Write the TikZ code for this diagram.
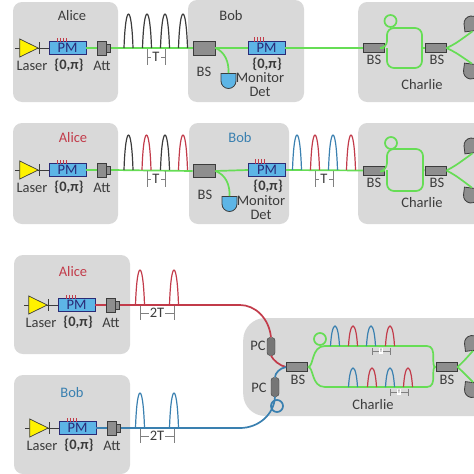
\documentclass[tikz,border=0pt]{standalone}
\usepackage{fontspec}
\setmainfont{Carlito}
\usetikzlibrary{shapes.geometric,shapes.misc}
\definecolor{panel}{HTML}{D9D9D9}
\definecolor{fibre}{HTML}{66DD55}
\definecolor{redline}{HTML}{C23B4A}
\definecolor{blueline}{HTML}{3A80B0}
\definecolor{ink}{HTML}{3C3C3C}
\definecolor{steel}{HTML}{8E8E8E}
\definecolor{pmblue}{HTML}{5DB5E6}
\newcommand{\lblfont}{\fontsize{14.5}{16}\selectfont}
\tikzset{
  panelbox/.style={fill=panel, rounded corners=9pt, inner sep=0pt},
  lbl/.style={text=ink, font=\lblfont, inner sep=0pt},
  phaselbl/.style={text=ink, font=\bfseries\lblfont, inner sep=0pt},
  fibreline/.style={line width=1.7pt, draw=#1},
  fibreline/.default=fibre,
  pulseline/.style={line width=1.2pt, draw=#1},
  bsbox/.style={draw=ink, fill=steel, line width=0.9pt, inner sep=0pt, minimum width=#1},
  pmbox/.style={draw=ink!70!blue, fill=pmblue, line width=0.9pt, inner sep=0pt, minimum width=37pt, minimum height=13pt, text=ink!70!blue, font=\lblfont},
  detbox/.style={rounded rectangle, rounded rectangle west arc=none, draw=ink, fill=#1, line width=0.8pt, inner sep=0pt, minimum width=13pt, minimum height=15pt},
  pcbox/.style={draw=ink, fill=ink!70, rounded corners=3pt, inner sep=0pt, minimum width=8pt},
  tmarkline/.style={draw=gray, line width=0.7pt},
}
% sender chain: prefix, left x, y, colour of the fibre
\newcommand{\sender}[4]{
  \coordinate (#1in) at (#2-5,#3);
  \node[pmbox] (#1pm) at (#2+47.5,#3) {PM};
  \node[draw=ink, fill=steel, line width=0.9pt, inner sep=0pt, minimum width=9pt, minimum height=14pt] (#1att) at (#2+81.5,#3) {};
  \node[draw=ink, fill=steel, line width=0.7pt, inner sep=0pt, minimum width=4pt, minimum height=8pt, anchor=west] (#1cap) at (#1att.east) {};
  \draw[ink, line width=1pt] (#1in) -- (#1pm.west);
  \draw[ink, line width=1pt] (#2+19,#3-6) -- (#2+19,#3+6);
  \node[isosceles triangle, isosceles triangle apex angle=52, draw=ink, fill=yellow, line width=0.7pt, inner sep=0pt, minimum height=18pt, minimum width=18pt, anchor=apex] (#1laser) at (#2+19,#3) {};
  \foreach \t in {0,3,6,9} \draw[redline, line width=0.6pt] (#2+37+\t,#3-6.5) -- (#2+37+\t,#3-10.5);
  \draw[fibreline=#4] (#1pm.east) -- (#1att.west);
  \node[lbl] (#1lasertxt) at (#2+12,#3+18) {Laser};
  \node[phaselbl] (#1phase) at (#2+49,#3+17) {\{0,π\}};
  \node[lbl] (#1atttxt) at (#2+82,#3+18) {Att};
}
\newcommand{\pulse}[4]{\draw[pulseline=#4] (#1-4.5,#2) .. controls (#1-3,#2-1.33*#3) and (#1+3,#2-1.33*#3) .. (#1+4.5,#2);}
% optional font, name, x1, x2, y, half height, text
\newcommand{\tmark}[7][\lblfont]{
  \draw[tmarkline] (#3,#5-#6) -- (#3,#5+#6) (#4,#5-#6) -- (#4,#5+#6) (#3,#5) -- (#4,#5);
  \node[lbl, fill=white, inner sep=1pt, font=#1] (#2) at ({(#3+#4)/2},#5) {#7};
}
\begin{document}
\begin{tikzpicture}[x=1pt, y=-1pt]
\useasboundingbox (0,0) rectangle (474,474);
\clip (0,0) rectangle (474,474);

% first row
\node[panelbox, minimum width=105pt, minimum height=100pt] (alicea) at (65.5,52) {};
\node[panelbox, minimum width=116pt, minimum height=102pt] (boba) at (246,51) {};
\node[panelbox, minimum width=130pt, minimum height=100pt, anchor=west] (charliea) at (358,52) {};
\node[lbl] (alicetxta) at (72,16) {Alice};
\node[lbl] (bobtxta) at (231,16) {Bob};
\node[lbl] (charlietxta) at (422,85) {Charlie};
\sender{a}{20}{48}{fibre}
\node[bsbox=22pt, minimum height=14pt] (bsa) at (204,48) {};
\node[pmbox] (pmba) at (266.5,48) {PM};
\foreach \t in {0,3,6,9} \draw[redline, line width=0.6pt] (254+\t,41.5) -- (254+\t,37);
\node[phaselbl] (phaseba) at (267,64) {\{0,π\}};
\node[lbl] (bstxta) at (204,72) {BS};
\node[detbox=pmblue, rotate=-90] (mona) at (228.5,81) {};
\node[lbl] (montxta) at (260,78) {Monitor};
\node[lbl] (dettxta) at (260,92) {Det};
\node[bsbox=21pt, minimum height=9pt] (bsca) at (373.5,48) {};
\node[bsbox=21pt, minimum height=9pt] (bsda) at (435.5,48) {};
\node[lbl] (bscatxt) at (374,60) {BS};
\node[lbl] (bsdatxt) at (437,60) {BS};
\node[detbox=steel, rotate=97] (upa) at (471.5,23.5) {};
\node[detbox=steel, rotate=-97] (loa) at (471,71.5) {};
\draw[fibreline] (acap.east) -- (bsa.west);
\draw[fibreline] (bsa.east) -- (pmba.west);
\draw[fibreline] (pmba.east) -- (bsca.west);
\draw[fibreline] (bsa.east) .. controls (225,52) and (229,62) .. (mona.west);
\draw[fibreline, rounded corners=7pt] (bsca.east) -- (387,48) -- (387,28) -- (422,28) -- (422,68) -- (387,68) -- (387,48);
\draw[fibreline] (bsda.west) -- (422,48);
\draw[fibreline] (390.5,21) circle (6);
\draw[fibreline] (bsda.east) .. controls (455,44) .. (upa.west);
\draw[fibreline] (bsda.east) .. controls (455,52) .. (loa.west);
\foreach \x in {128.5,147,165,183} \pulse{\x}{48}{34}{ink};
\tmark{ta}{147}{165}{57}{8}{T}

% second row
\node[panelbox, minimum width=105pt, minimum height=101pt] (aliceb) at (65.5,173.5) {};
\node[panelbox, minimum width=100pt, minimum height=101pt] (bobb) at (239,173.5) {};
\node[panelbox, minimum width=130pt, minimum height=101pt, anchor=west] (charlieb) at (358,173.5) {};
\node[lbl, text=redline] (alicetxtb) at (73,138) {Alice};
\node[lbl, text=blueline] (bobtxtb) at (240,138) {Bob};
\node[lbl] (charlietxtb) at (422,203) {Charlie};
\sender{b}{20}{170}{fibre}
\node[bsbox=22pt, minimum height=13pt] (bsb) at (204,171) {};
\node[pmbox] (pmbb) at (267,170) {PM};
\foreach \t in {0,3,6,9} \draw[redline, line width=0.6pt] (255+\t,163.5) -- (255+\t,159);
\node[phaselbl] (phasebb) at (268,186) {\{0,π\}};
\node[lbl] (bstxtb) at (205,195) {BS};
\node[detbox=pmblue, rotate=-90] (monb) at (229.5,204) {};
\node[lbl] (montxtb) at (261,201) {Monitor};
\node[lbl] (dettxtb) at (261,215) {Det};
\node[bsbox=21pt, minimum height=9pt] (bscb) at (374,170.5) {};
\node[bsbox=21pt, minimum height=9pt] (bsdb) at (435.5,170.5) {};
\node[lbl] (bscbtxt) at (374,183) {BS};
\node[lbl] (bsdbtxt) at (437,183) {BS};
\node[detbox=steel, rotate=97] (upb) at (471.5,145.5) {};
\node[detbox=steel, rotate=-97] (lob) at (471,195.5) {};
\draw[fibreline] (bcap.east) -- (bsb.west);
\draw[fibreline] (bsb.east) -- (pmbb.west);
\draw[fibreline] (pmbb.east) -- (bscb.west);
\draw[fibreline] (bsb.east) .. controls (226,175) and (230,185) .. (monb.west);
\draw[fibreline, rounded corners=7pt] (bscb.east) -- (387,170) -- (387,149) -- (423,149) -- (423,191) -- (387,191) -- (387,170);
\draw[fibreline] (bsdb.west) -- (423,170);
\draw[fibreline] (391,143) circle (6);
\draw[fibreline] (bsdb.east) .. controls (455,166) .. (upb.west);
\draw[fibreline] (bsdb.east) .. controls (455,175) .. (lob.west);
\foreach \x/\c in {128.5/ink,146.5/redline,165/ink,183/redline,297/blueline,315/redline,333/blueline,351/redline} \pulse{\x}{170}{35}{\c};
\tmark{tb}{147}{165}{179}{8}{T}
\tmark{tc}{315}{333}{179}{8}{T}

% lower part
\node[panelbox, minimum width=116pt, minimum height=99pt] (alicec) at (72,304.5) {};
\node[panelbox, minimum width=116pt, minimum height=99pt] (bobc) at (72,424.5) {};
\node[fill=panel, rounded corners=22pt, inner sep=0pt, minimum width=260pt, minimum height=98pt, anchor=west] (charliec) at (243,367) {};
\node[lbl, text=redline] (alicetxtc) at (73,272) {Alice};
\node[lbl, text=blueline] (bobtxtc) at (72,393) {Bob};
\node[lbl] (charlietxtc) at (373,405) {Charlie};
\sender{c}{29}{305}{redline}
\sender{d}{30}{428}{blueline}
\node[pcbox, minimum height=18pt] (pcr) at (271,346.5) {};
\node[pcbox, minimum height=19pt] (pcb) at (275,387) {};
\node[lbl] (pcrtxt) at (258,346) {PC};
\node[lbl] (pcbtxt) at (259,388) {PC};
\node[bsbox=21pt, minimum height=9pt] (bsl) at (297,367) {};
\node[bsbox=21pt, minimum height=9pt] (bsr) at (446.5,367) {};
\node[lbl] (bsltxt) at (298,380) {BS};
\node[lbl] (bsrtxt) at (447,380) {BS};
\node[detbox=steel, rotate=97] (upc) at (472,343) {};
\node[detbox=steel, rotate=-97] (loc) at (472,390) {};
\coordinate (redbend) at (240,305);
\coordinate (bluebend) at (240,428);
\draw[fibreline=redline] (ccap.east) -- (redbend) .. controls (255,305) and (269,318) .. (pcr.north);
\draw[fibreline=redline] (pcr.south) .. controls (273,360) and (280,366) .. (bsl.west);
\draw[fibreline=blueline] (dcap.east) -- (bluebend) .. controls (258,428) and (274,415) .. (pcb.south);
\draw[fibreline=blueline] (pcb.north) .. controls (275,373) and (280,368) .. (bsl.west);
\draw[fibreline=blueline] (277,406) circle (6);
\draw[fibreline] (bsl.east) .. controls (314,367) and (311,346) .. (325,346) -- (427,346) .. controls (438,346) and (430,367) .. (bsr.west);
\draw[fibreline] (bsl.east) .. controls (314,367) and (311,387) .. (325,387) -- (427,387) .. controls (438,387) and (430,367) .. (bsr.west);
\draw[fibreline] (320,339) circle (6);
\draw[fibreline] (bsr.east) .. controls (463,362) .. (upc.west);
\draw[fibreline] (bsr.east) .. controls (463,372) .. (loc.west);
\foreach \x/\c in {140/redline,174/redline} \pulse{\x}{305}{35}{\c};
\foreach \x/\c in {140/blueline,174/blueline} \pulse{\x}{428}{35}{\c};
\foreach \x/\c in {335/blueline,353/redline,371/blueline,390/redline} \pulse{\x}{346}{20}{\c};
\foreach \x/\c in {353/blueline,372/redline,390/blueline,408/redline} \pulse{\x}{387}{19}{\c};
\tmark{tc2}{140}{174}{313}{7}{2T}
\tmark{td2}{140}{174}{436}{7}{2T}
\tmark[\fontsize{5}{6}\selectfont]{te}{372}{390}{351}{3.5}{T}
\tmark[\fontsize{5}{6}\selectfont]{tf}{390}{408}{392}{3.5}{T}
\end{tikzpicture}
\end{document}
